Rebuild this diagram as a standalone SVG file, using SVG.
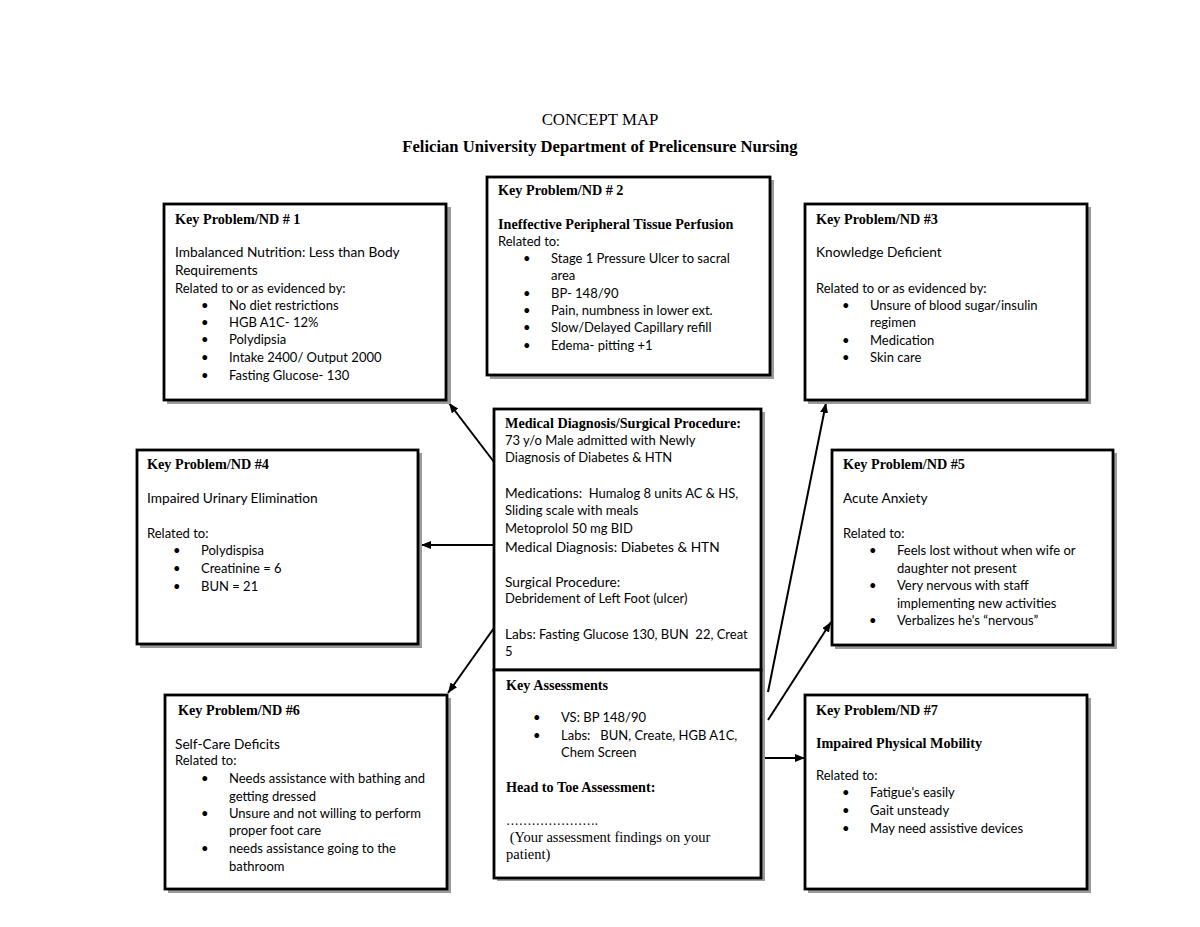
<svg xmlns="http://www.w3.org/2000/svg" width="1200" height="927" viewBox="0 0 1200 927">
<style>
.bg{fill:#ffffff}
.sh{fill:#9a9a9a}
.box{fill:#ffffff;stroke:#000000;stroke-width:2.8}
.h{font-family:"Liberation Serif","Times New Roman",serif;font-weight:bold;font-size:14.2px;fill:#000}
.s{font-family:"Liberation Serif","Times New Roman",serif;font-size:14.5px;fill:#000}
.t{font-family:Lato,"Liberation Sans",Arial,sans-serif;font-size:13px;fill:#000}
.tl{font-family:Lato,"Liberation Sans",Arial,sans-serif;font-size:13.7px;fill:#000}
.pre{white-space:pre}
.title{font-family:"Liberation Serif","Times New Roman",serif;font-size:16.8px;fill:#000}
.titleb{font-family:"Liberation Serif","Times New Roman",serif;font-weight:bold;font-size:16.6px;fill:#000}
.c{stroke:#000;stroke-width:2;fill:none;marker-end:url(#ah)}
</style>
<defs>
<marker id="ah" viewBox="0 0 10 8" refX="10" refY="4" markerWidth="10" markerHeight="8" markerUnits="userSpaceOnUse" orient="auto">
<path d="M0,0 L10,4 L0,8 z" fill="#000"/>
</marker>
</defs>
<rect class="bg" x="0" y="0" width="1200" height="927"/>

<g id="title">
<text class="title" x="600" y="125" text-anchor="middle">CONCEPT MAP</text>
<text class="titleb" x="600" y="152" text-anchor="middle">Felician University Department of Prelicensure Nursing</text>
</g>

<g id="connectors">
<line class="c" x1="494" y1="462" x2="449" y2="403"/>
<line class="c" x1="494" y1="545" x2="421" y2="545"/>
<line class="c" x1="494" y1="628" x2="448" y2="693"/>
<line class="c" x1="768" y1="692" x2="826" y2="403"/>
<line class="c" x1="768" y1="720" x2="831" y2="622"/>
<line class="c" x1="764" y1="758" x2="805" y2="758"/>
</g>

<g id="nd1">
<rect class="sh" x="167" y="207" width="284" height="197"/>
<rect class="box" x="164" y="204" width="282" height="196"/>
<text class="h" x="175" y="224">Key Problem/ND # 1</text>
<text class="tl" x="175" y="257">Imbalanced Nutrition: Less than Body</text>
<text class="tl" x="175" y="275">Requirements</text>
<text class="t" x="175" y="293">Related to or as evidenced by:</text>
<text class="t" x="201" y="310">•</text><text class="t" x="229" y="310">No diet restrictions</text>
<text class="t" x="201" y="327">•</text><text class="t" x="229" y="327">HGB A1C- 12%</text>
<text class="t" x="201" y="344">•</text><text class="t" x="229" y="344">Polydipsia</text>
<text class="t" x="201" y="362">•</text><text class="t" x="229" y="362">Intake 2400/ Output 2000</text>
<text class="t" x="201" y="380">•</text><text class="t" x="229" y="380">Fasting Glucose- 130</text>
</g>

<g id="nd2">
<rect class="sh" x="490" y="180" width="284" height="199"/>
<rect class="box" x="487" y="177" width="283" height="198"/>
<text class="h" x="498" y="195">Key Problem/ND # 2</text>
<text class="h" x="498" y="229">Ineffective Peripheral Tissue Perfusion</text>
<text class="t" x="498" y="246">Related to:</text>
<text class="t" x="523" y="263">•</text><text class="t" x="551" y="263">Stage 1 Pressure Ulcer to sacral</text>
<text class="t" x="551" y="280">area</text>
<text class="t" x="523" y="298">•</text><text class="t" x="551" y="298">BP- 148/90</text>
<text class="t" x="523" y="315">•</text><text class="t" x="551" y="315">Pain, numbness in lower ext.</text>
<text class="t" x="523" y="332">•</text><text class="t" x="551" y="332">Slow/Delayed Capillary refill</text>
<text class="t" x="523" y="350">•</text><text class="t" x="551" y="350">Edema- pitting +1</text>
</g>

<g id="nd3">
<rect class="sh" x="808" y="207" width="283" height="197"/>
<rect class="box" x="805" y="204" width="282" height="196"/>
<text class="h" x="816" y="224">Key Problem/ND #3</text>
<text class="tl" x="816" y="257">Knowledge Deficient</text>
<text class="t" x="816" y="293">Related to or as evidenced by:</text>
<text class="t" x="842" y="310">•</text><text class="t" x="870" y="310">Unsure of blood sugar/insulin</text>
<text class="t" x="870" y="327">regimen</text>
<text class="t" x="842" y="345">•</text><text class="t" x="870" y="345">Medication</text>
<text class="t" x="842" y="362">•</text><text class="t" x="870" y="362">Skin care</text>
</g>

<g id="nd4">
<rect class="sh" x="140" y="453" width="282" height="195"/>
<rect class="box" x="137" y="450" width="281" height="194"/>
<text class="h" x="147" y="469">Key Problem/ND #4</text>
<text class="tl" x="147" y="503">Impaired Urinary Elimination</text>
<text class="t" x="147" y="538">Related to:</text>
<text class="t" x="173" y="555">•</text><text class="t" x="201" y="555">Polydispisa</text>
<text class="t" x="173" y="573">•</text><text class="t" x="201" y="573">Creatinine = 6</text>
<text class="t" x="173" y="591">•</text><text class="t" x="201" y="591">BUN = 21</text>
</g>

<g id="medical">
<rect class="sh" x="497" y="412" width="268" height="261"/>
<rect class="box" x="494" y="409" width="267" height="261"/>
<text class="h" x="505" y="428">Medical Diagnosis/Surgical Procedure:</text>
<text class="t" x="505" y="445">73 y/o Male admitted with Newly</text>
<text class="t" x="505" y="462">Diagnosis of Diabetes &amp; HTN</text>
<text class="pre" x="505" y="498"><tspan class="tl">Medications:</tspan><tspan class="t">  Humalog 8 units AC &amp; HS,</tspan></text>
<text class="t" x="505" y="515">Sliding scale with meals</text>
<text class="t" x="505" y="533">Metoprolol 50 mg BID</text>
<text class="tl" x="505" y="552">Medical Diagnosis: Diabetes &amp; HTN</text>
<text class="tl" x="505" y="587">Surgical Procedure:</text>
<text class="t" x="505" y="603">Debridement of Left Foot (ulcer)</text>
<text class="pre" x="505" y="639"><tspan class="tl">Labs</tspan><tspan class="t">: Fasting Glucose 130, BUN  22, Creat</tspan></text>
<text class="t" x="505" y="656">5</text>
</g>

<g id="assess">
<rect class="sh" x="497" y="673" width="268" height="208"/>
<rect class="box" x="494" y="670" width="267" height="208"/>
<text class="h" x="506" y="690">Key Assessments</text>
<text class="t" x="533" y="722">•</text><text class="t" x="561" y="722">VS: BP 148/90</text>
<text class="t" x="533" y="740">•</text><text class="t pre" x="561" y="740">Labs:   BUN, Create, HGB A1C,</text>
<text class="t" x="561" y="757">Chem Screen</text>
<text class="h" x="506" y="792">Head to Toe Assessment:</text>
<text class="s" x="506" y="825" textLength="92" lengthAdjust="spacingAndGlyphs">………………….</text>
<text class="s pre" x="506" y="842"> (Your assessment findings on your</text>
<text class="s" x="506" y="859">patient)</text>
</g>

<g id="nd5">
<rect class="sh" x="835" y="453" width="282" height="196"/>
<rect class="box" x="832" y="450" width="281" height="195"/>
<text class="h" x="843" y="469">Key Problem/ND #5</text>
<text class="tl" x="843" y="503">Acute Anxiety</text>
<text class="t" x="843" y="538">Related to:</text>
<text class="t" x="869" y="555">•</text><text class="t" x="897" y="555">Feels lost without when wife or</text>
<text class="t" x="897" y="573">daughter not present</text>
<text class="t" x="869" y="590">•</text><text class="t" x="897" y="590">Very nervous with staff</text>
<text class="t" x="897" y="608">implementing new activities</text>
<text class="t" x="869" y="625">•</text><text class="t" x="897" y="625">Verbalizes he's “nervous”</text>
</g>

<g id="nd6">
<rect class="sh" x="168" y="698" width="283" height="195"/>
<rect class="box" x="165" y="695" width="282" height="194"/>
<text class="h" x="178" y="715">Key Problem/ND #6</text>
<text class="tl" x="175" y="749">Self-Care Deficits</text>
<text class="t" x="175" y="765">Related to:</text>
<text class="t" x="201" y="783">•</text><text class="t" x="229" y="783">Needs assistance with bathing and</text>
<text class="t" x="229" y="801">getting dressed</text>
<text class="t" x="201" y="818">•</text><text class="t" x="229" y="818">Unsure and not willing to perform</text>
<text class="t" x="229" y="835">proper foot care</text>
<text class="t" x="201" y="853">•</text><text class="t" x="229" y="853">needs assistance going to the</text>
<text class="t" x="229" y="871">bathroom</text>
</g>

<g id="nd7">
<rect class="sh" x="808" y="698" width="283" height="195"/>
<rect class="box" x="805" y="695" width="282" height="194"/>
<text class="h" x="816" y="715">Key Problem/ND #7</text>
<text class="h" x="816" y="748">Impaired Physical Mobility</text>
<text class="t" x="816" y="780">Related to:</text>
<text class="t" x="842" y="797">•</text><text class="t" x="870" y="797">Fatigue's easily</text>
<text class="t" x="842" y="815">•</text><text class="t" x="870" y="815">Gait unsteady</text>
<text class="t" x="842" y="833">•</text><text class="t" x="870" y="833">May need assistive devices</text>
</g>
</svg>
